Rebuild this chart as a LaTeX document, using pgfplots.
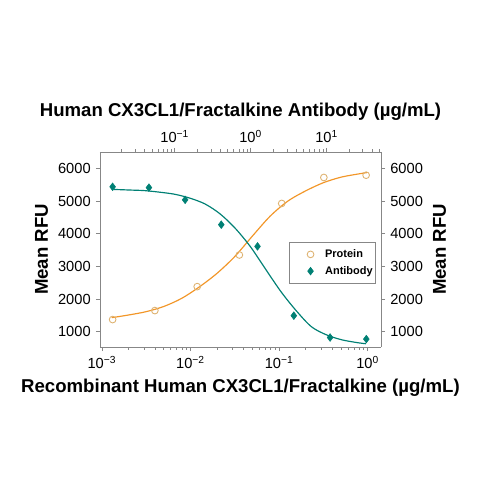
\documentclass[border=0pt]{standalone}
\usepackage{fontspec}
\setmainfont{Liberation Sans}
\usepackage{pgfplots}
\pgfplotsset{compat=1.18}

\definecolor{protein}{RGB}{242,150,40}
\definecolor{proteinmk}{RGB}{222,178,112}
\definecolor{antibody}{RGB}{0,128,116}
\definecolor{frame}{RGB}{135,135,135}

\begin{document}
\begin{tikzpicture}
\path[use as bounding box] (0,0) rectangle (12cm,12cm);

% recombinant protein, bottom axis
\begin{axis}[xmode=log,
  scale only axis, width=6.744cm, height=4.68cm,
  at={(2.4cm,3.672cm)}, anchor=south west,
  ymin=530, ymax=6500, ytick={1000,2000,...,6000},
  tick align=outside, major tick length=0.1cm, minor tick length=0.06cm,
  axis line style={frame}, tick style={frame, line width=0.5pt},
  /pgf/number format/1000 sep={}, /pgf/number format/assume math mode=true,
  scaled y ticks=false,
  ticklabel style={font=\fontsize{10}{12}\selectfont},
  label style={font=\fontsize{12.7}{15}\selectfont\bfseries},
  axis x line*=bottom, axis y line*=left,
  xmin=0.000951, xmax=1.413,
  xtick={0.001,0.01,0.1,1},
  xticklabels={10\textsuperscript{−3},10\textsuperscript{−2},10\textsuperscript{−1},10\textsuperscript{0}},
  minor xtick={0.002,0.003,0.004,0.005,0.006,0.007,0.008,0.009,
    0.02,0.03,0.04,0.05,0.06,0.07,0.08,0.09,
    0.2,0.3,0.4,0.5,0.6,0.7,0.8,0.9},
  xlabel={Recombinant Human CX3CL1/Fractalkine (µg/mL)},
  ylabel={Mean RFU}]
\addplot[protein, line width=0.8pt, smooth] table {
x y
0.00129 1428
0.002 1510
0.00316 1612
0.00501 1772
0.00794 2019
0.0126 2371
0.01995 2787
0.0316 3300
0.0501 3930
0.0794 4538
0.126 5000
0.1995 5310
0.316 5560
0.501 5730
0.794 5830
0.977 5868
};
\addplot[only marks, mark=o, mark size=2.3pt, proteinmk, line width=0.6pt] table {
x y
0.00132 1370
0.00396 1645
0.0119 2378
0.0356 3347
0.107 4925
0.32 5720
0.96 5790
};
\end{axis}

% antibody, top axis
\begin{axis}[xmode=log,
  scale only axis, width=6.744cm, height=4.68cm,
  at={(2.4cm,3.672cm)}, anchor=south west,
  ymin=530, ymax=6500, ytick={1000,2000,...,6000},
  tick align=outside, major tick length=0.1cm, minor tick length=0.06cm,
  axis line style={frame}, tick style={frame, line width=0.5pt},
  /pgf/number format/1000 sep={}, /pgf/number format/assume math mode=true,
  scaled y ticks=false,
  ticklabel style={font=\fontsize{10}{12}\selectfont},
  label style={font=\fontsize{12.7}{15}\selectfont\bfseries},
  axis x line*=top, axis y line*=right,
  xmin=0.01037, xmax=52,
  xtick={0.1,1,10},
  xticklabels={10\textsuperscript{−1},10\textsuperscript{0},10\textsuperscript{1}},
  minor xtick={0.02,0.03,0.04,0.05,0.06,0.07,0.08,0.09,
    0.2,0.3,0.4,0.5,0.6,0.7,0.8,0.9,
    2,3,4,5,6,7,8,9,20,30,40,50},
  xlabel={Human CX3CL1/Fractalkine Antibody (µg/mL)},
  ylabel={Mean RFU},
  legend image code/.code={
    \path[draw=none, fill=none] (0cm,-0.08cm) rectangle (0.78cm,0.08cm);
    \draw[#1] plot coordinates {(0.5cm,0cm)};},
  legend style={at={(0.982,0.54)}, anchor=north east, draw=frame,
    font=\fontsize{7.5}{9}\selectfont\bfseries, inner xsep=0pt, inner ysep=3pt,
    row sep=0.5pt},
  legend cell align=left]
\addlegendimage{only marks, mark=o, mark size=2.3pt, proteinmk, line width=0.6pt}
\addlegendentry{Protein}
\addplot[antibody, line width=0.8pt, smooth, forget plot] table {
x y
0.0158 5354
0.0251 5336
0.0398 5318
0.0631 5270
0.1 5206
0.158 5088
0.251 4908
0.398 4600
0.631 4155
1.0 3590
1.585 2900
2.512 2220
3.981 1640
6.31 1150
10.0 900
15.85 750
25.12 665
32.8 630
};
\addplot[only marks, mark=diamond*, mark size=2.6pt, antibody] table {
x y
0.0152 5434
0.0457 5410
0.137 5035
0.41 4275
1.23 3610
3.7 1489
11.1 820
33.3 772
};
\addlegendentry{Antibody}
\end{axis}
\end{tikzpicture}
\end{document}
